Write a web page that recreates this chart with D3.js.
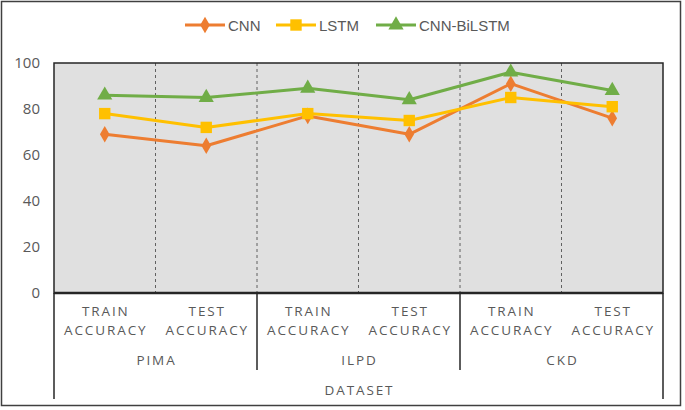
<!DOCTYPE html>
<html>
<head>
<meta charset="utf-8">
<script src="https://cdn.jsdelivr.net/npm/d3@7"></script>
<style>
  body { margin: 0; background: #fff; }
  text { font-family: "Liberation Sans Narrow", "Arial Narrow", "Liberation Sans", sans-serif; }
</style>
</head>
<body>
<div id="chart"></div>
<script>
// chart data
const categories = ["PIMA-TRAIN", "PIMA-TEST", "ILPD-TRAIN", "ILPD-TEST", "CKD-TRAIN", "CKD-TEST"];
const catLines = [["TRAIN", "ACCURACY"], ["TEST", "ACCURACY"], ["TRAIN", "ACCURACY"], ["TEST", "ACCURACY"], ["TRAIN", "ACCURACY"], ["TEST", "ACCURACY"]];
const groups = ["PIMA", "ILPD", "CKD"];
const seriesNames = ["CNN", "LSTM", "CNN-BiLSTM"];
const cnnValues = [69, 64, 77, 69, 91, 76];
const lstmValues = [78, 72, 78, 75, 85, 81];
const bilstmValues = [86, 85, 89, 84, 96, 88];
const yTicks = [0, 20, 40, 60, 80, 100];
const axisTitle = "DATASET";

const width = 685, height = 410;
const plot = { left: 54, right: 663, top: 63, bottom: 293 };

const series = [
    { name: seriesNames[0], values: cnnValues, color: "#ED7D31", symbol: d3.symbolDiamond, size: 80 },
    { name: seriesNames[1], values: lstmValues, color: "#FFC000", symbol: d3.symbolSquare, size: 130 },
    { name: seriesNames[2], values: bilstmValues, color: "#70AD47", symbol: d3.symbolTriangle, size: 100 }
];

const svg = d3.select("#chart").append("svg")
    .attr("width", width)
    .attr("height", height);

// outer frame
svg.append("rect")
    .attr("x", 1.5).attr("y", 1.5)
    .attr("width", 679).attr("height", 404)
    .attr("fill", "#fff")
    .attr("stroke", "#404040")
    .attr("stroke-width", 1.5);

const x = d3.scaleBand()
    .domain(categories)
    .range([plot.left, plot.right]);

const y = d3.scaleLinear()
    .domain([0, 100])
    .range([plot.bottom, plot.top]);

// plot background
svg.append("rect")
    .attr("x", plot.left).attr("y", plot.top)
    .attr("width", plot.right - plot.left)
    .attr("height", plot.bottom - plot.top)
    .attr("fill", "#E0E0E0");

// dashed vertical grid between categories
svg.append("g")
    .selectAll("line")
    .data(categories.slice(1))
    .join("line")
    .attr("x1", d => x(d)).attr("x2", d => x(d))
    .attr("y1", plot.top).attr("y2", plot.bottom)
    .attr("stroke", "#404040")
    .attr("stroke-width", 0.8)
    .attr("stroke-dasharray", "3,3");

// plot border
svg.append("rect")
    .attr("x", plot.left).attr("y", plot.top)
    .attr("width", plot.right - plot.left)
    .attr("height", plot.bottom - plot.top)
    .attr("fill", "none")
    .attr("stroke", "#262626")
    .attr("stroke-width", 1.5);

// y axis labels
const yAxis = svg.append("g")
    .attr("transform", `translate(${plot.left},0)`)
    .call(d3.axisLeft(y).tickValues(yTicks).tickSize(0).tickPadding(14));
yAxis.select(".domain").remove();
yAxis.selectAll("text")
    .attr("font-size", 15)
    .attr("fill", "#595959")
    .style("font-family", "'Open Sans', sans-serif");

// x axis: bottom line, category split lines
svg.append("line")
    .attr("x1", plot.left).attr("x2", plot.right)
    .attr("y1", plot.bottom).attr("y2", plot.bottom)
    .attr("stroke", "#262626").attr("stroke-width", 2.5);

svg.append("g")
    .selectAll("line")
    .data([plot.left, plot.right])
    .join("line")
    .attr("x1", d => d).attr("x2", d => d)
    .attr("y1", plot.bottom).attr("y2", 399)
    .attr("stroke", "#262626").attr("stroke-width", 1.5);

svg.append("g")
    .selectAll("line")
    .data([categories[2], categories[4]])
    .join("line")
    .attr("x1", d => x(d)).attr("x2", d => x(d))
    .attr("y1", plot.bottom).attr("y2", 370)
    .attr("stroke", "#262626").attr("stroke-width", 1.5);

const labelFont = "'Open Sans', sans-serif";

const catText = svg.append("g")
    .selectAll("text")
    .data(categories)
    .join("text")
    .attr("text-anchor", "middle")
    .attr("font-size", 13.5)
    .attr("fill", "#595959")
    .attr("letter-spacing", 1.9)
    .style("font-family", labelFont);
catText.each(function(d, i) {
    const t = d3.select(this);
    catLines[i].forEach((line, j) => {
        t.append("tspan")
            .attr("x", x(d) + x.bandwidth() / 2 + 1)
            .attr("y", 316 + j * 19)
            .text(line);
    });
});

svg.append("g")
    .selectAll("text")
    .data(groups)
    .join("text")
    .attr("x", (d, i) => x(categories[i * 2]) + x.bandwidth() + 1)
    .attr("y", 365)
    .attr("text-anchor", "middle")
    .attr("font-size", 13.5)
    .attr("fill", "#595959")
    .attr("letter-spacing", 1.9)
    .style("font-family", labelFont)
    .text(d => d);

svg.append("text")
    .attr("x", (plot.left + plot.right) / 2 + 1)
    .attr("y", 395)
    .attr("text-anchor", "middle")
    .attr("font-size", 13.5)
    .attr("fill", "#595959")
    .attr("letter-spacing", 1.9)
    .style("font-family", labelFont)
    .text(axisTitle);

// lines and markers
const line = d3.line()
    .x((d, i) => x(categories[i]) + x.bandwidth() / 2)
    .y(d => y(d));

series.forEach(s => {
    svg.append("path")
        .datum(s.values)
        .attr("d", line)
        .attr("fill", "none")
        .attr("stroke", s.color)
        .attr("stroke-width", 3)
        .attr("stroke-linejoin", "round");

    svg.append("g")
        .selectAll("path")
        .data(s.values)
        .join("path")
        .attr("transform", (d, i) => `translate(${x(categories[i]) + x.bandwidth() / 2},${y(d)})`)
        .attr("d", d3.symbol().type(s.symbol).size(s.size))
        .attr("fill", s.color);
});

// legend
const legendX = [185, 276, 376];
const legend = svg.append("g")
    .selectAll("g")
    .data(series)
    .join("g")
    .attr("transform", (d, i) => `translate(${legendX[i]},25)`);

legend.append("line")
    .attr("x1", 0).attr("x2", 40)
    .attr("stroke", d => d.color)
    .attr("stroke-width", 3);
legend.append("path")
    .attr("transform", "translate(20,0)")
    .attr("d", d => d3.symbol().type(d.symbol).size(d.size)())
    .attr("fill", d => d.color);
legend.append("text")
    .attr("x", 43)
    .attr("y", 5.5)
    .attr("font-size", 15)
    .attr("fill", "#595959")
    .text(d => d.name);
</script>
</body>
</html>
